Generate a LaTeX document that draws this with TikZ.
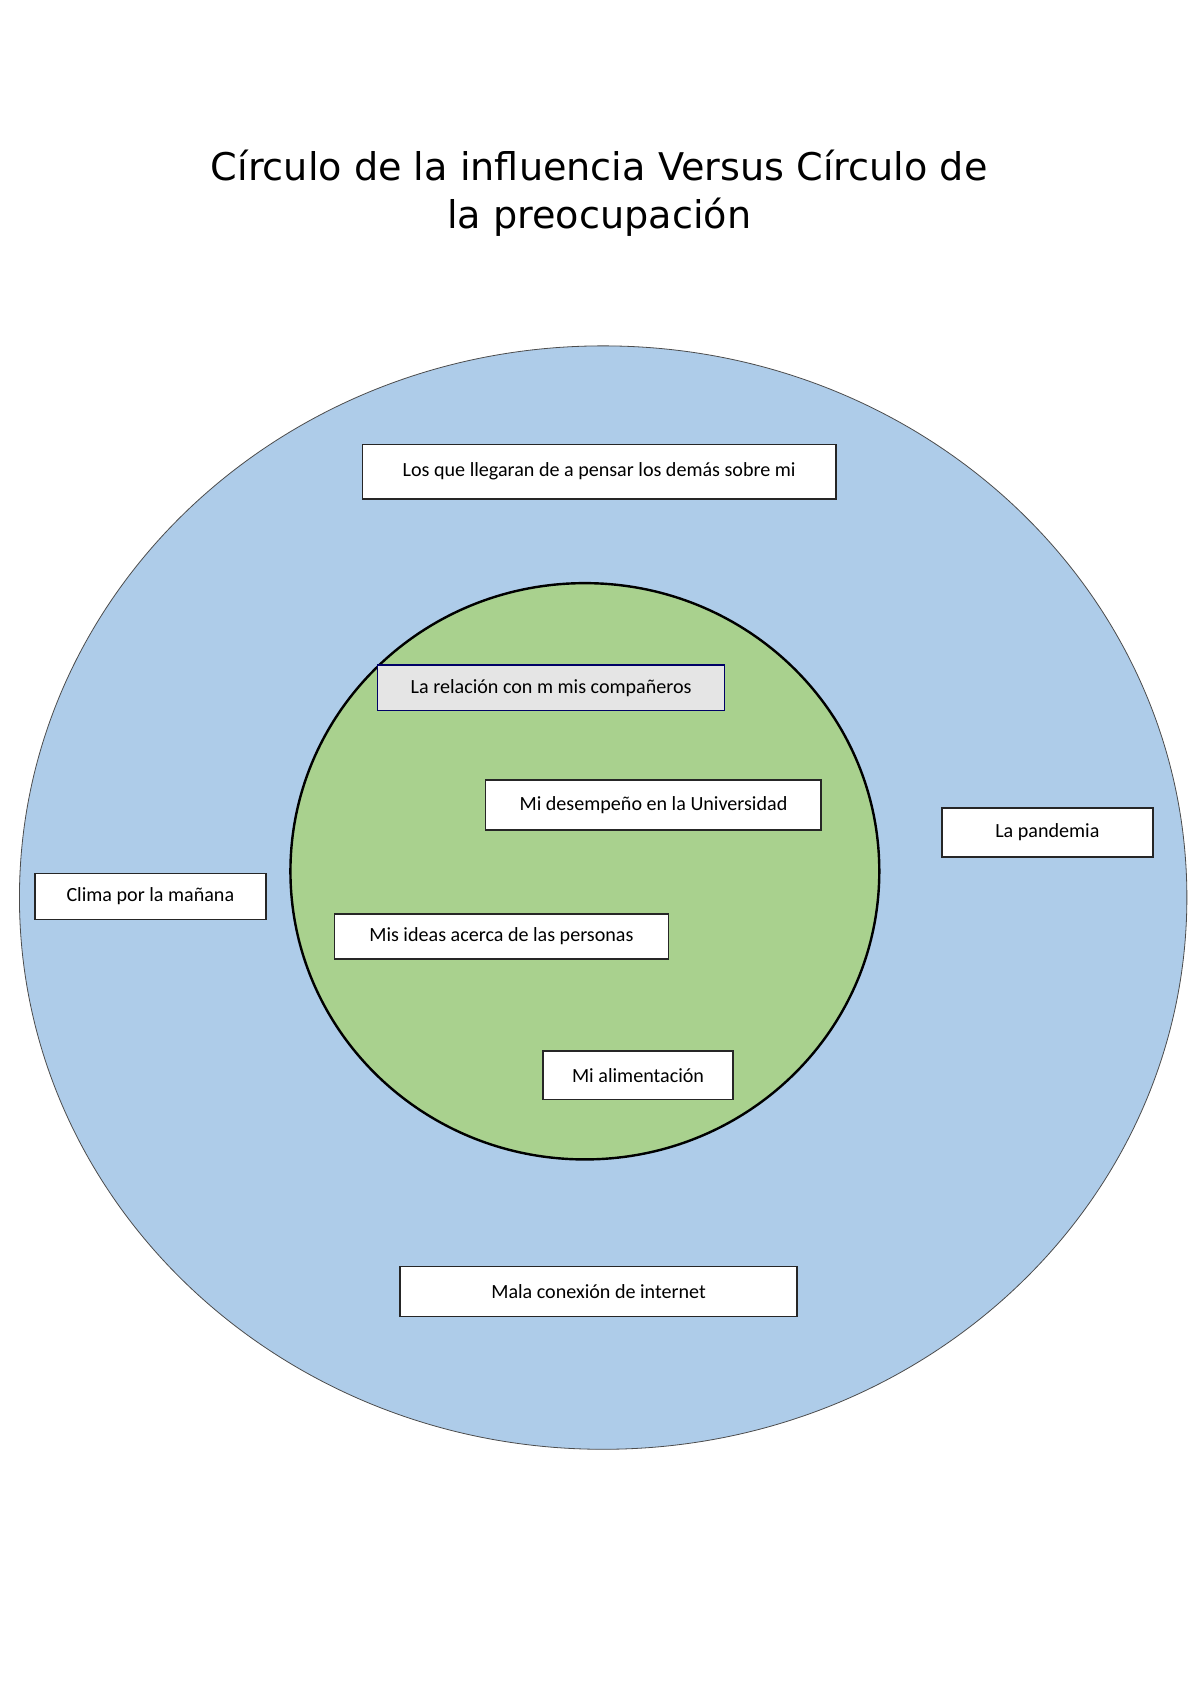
\documentclass[tikz,border=0pt]{standalone}
\usepackage{fontspec}
\setmainfont{Carlito}
\newfontfamily\titlefont{DejaVu Sans}
\usepackage{xcolor}
\definecolor{preoc}{HTML}{AECCE9}
\definecolor{influ}{HTML}{A9D18E}
\tikzset{
  caja/.style={draw=black!85,thick,fill=white,inner sep=0pt,font=\fontsize{10}{12}\selectfont}
}
\begin{document}
\begin{tikzpicture}
            \useasboundingbox (0,0) rectangle (21,29.7);
            \filldraw [draw=black!70,fill=preoc] (10.55,14.00) ellipse [x radius=10.21,y radius=9.65];
            \filldraw [very thick,draw=black,fill=influ] (10.23,14.46) ellipse [x radius=5.15,y radius=5.04];
            %%%%%%%%%%%%%%%%
            \node (t1) at (10.48,26.81) {\titlefont\fontsize{19}{22}\selectfont Círculo de la influencia Versus Círculo de};
            \node (t2) at (10.48,25.90) {\titlefont\fontsize{19}{22}\selectfont la preocupación};
            %%%%%%%%%%%%%%%%
            \node[caja,minimum width=8.28cm,minimum height=0.95cm] (demas) at (10.48,21.45) {Los que llegaran de a pensar los demás sobre mi};
            \node[caja,draw=blue!40!black,fill=black!10,minimum width=6.07cm,minimum height=0.79cm] (relacion) at (9.64,17.67) {La relación con m mis compañeros};
            \node[caja,minimum width=5.87cm,minimum height=0.87cm] (desemp) at (11.43,15.62) {Mi desempeño en la Universidad};
            \node[caja,minimum width=4.04cm,minimum height=0.80cm] (clima) at (2.63,14.02) {Clima por la mañana};
            \node[caja,minimum width=3.69cm,minimum height=0.85cm] (pandemia) at (18.32,15.14) {La pandemia};
            \node[caja,minimum width=5.84cm,minimum height=0.78cm] (ideas) at (8.77,13.32) {Mis ideas acerca de las personas};
            \node[caja,minimum width=3.33cm,minimum height=0.85cm] (alim) at (11.16,10.89) {Mi alimentación};
            \node[caja,minimum width=6.94cm,minimum height=0.87cm] (internet) at (10.47,7.11) {Mala conexión de internet};
\end{tikzpicture}
\end{document}
